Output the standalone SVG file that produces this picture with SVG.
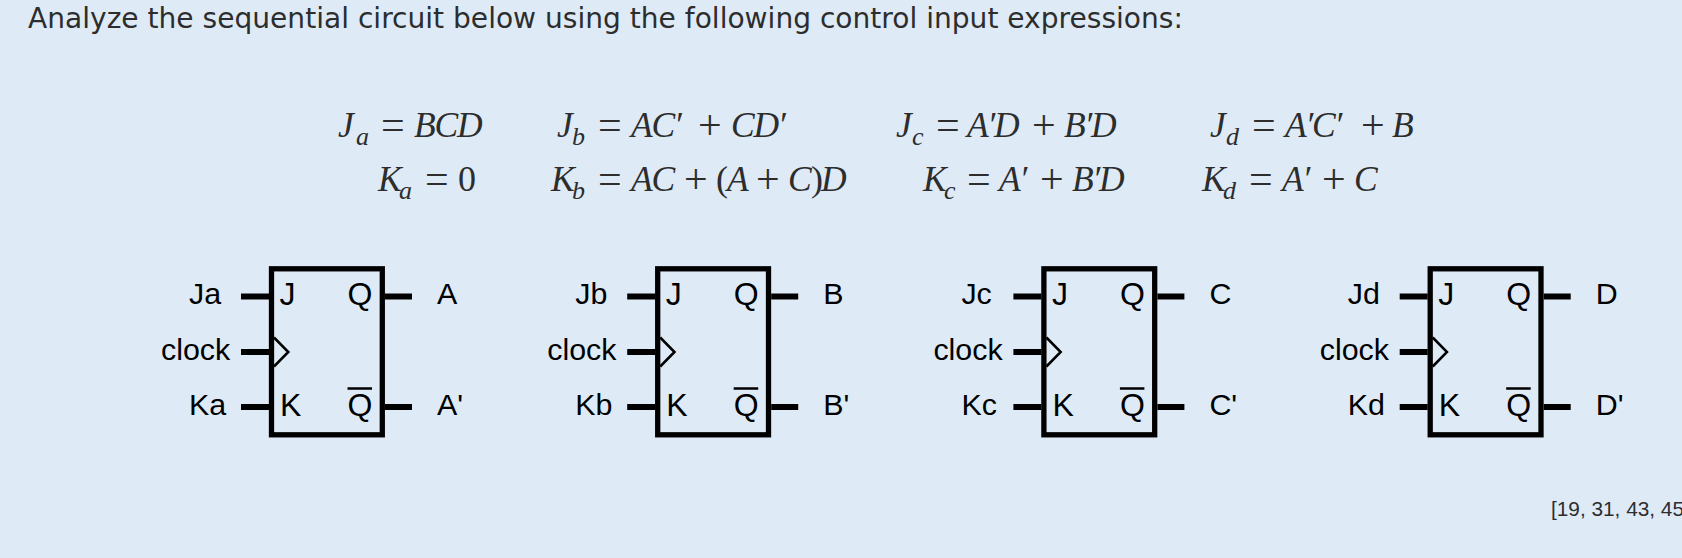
<svg xmlns="http://www.w3.org/2000/svg" width="1682" height="558" viewBox="0 0 1682 558">
<style>
.h{font-family:"DejaVu Sans",sans-serif;font-size:28.08px;fill:#2d2d2d}
.m{font-family:"Liberation Serif",serif;font-size:35.500px;fill:#2d2d2d;font-style:italic;letter-spacing:-1.200px}
.n{font-family:"Liberation Serif",serif;font-size:36px;fill:#2d2d2d}
.o{font-family:"Liberation Serif",serif;font-size:42px;fill:#2d2d2d}
.s{font-family:"Liberation Serif",serif;font-size:26px;fill:#2d2d2d;font-style:italic}
.l{font-family:"Liberation Sans",Arial,sans-serif;font-size:30.400px;fill:#000}
.b{font-family:"Liberation Sans",Arial,sans-serif;font-size:32px;fill:#000}
.w{stroke:#000;stroke-width:5.300;fill:none}
.t{stroke:#000;stroke-width:6;fill:none}
.c{stroke:#000;stroke-width:2.500;fill:none}
.f{font-family:"Liberation Sans",Arial,sans-serif;font-size:20.800px;fill:#2d2d2d}
</style>
<rect width="1682" height="558" fill="#deebf7"/>
<text class="h" x="28" y="28">Analyze the sequential circuit below using the following control input expressions:</text>
<g id="equations">
<text class="m" x="338" y="137">J</text><text class="s" x="356" y="145">a</text><text class="o" x="381" y="139">=</text><text class="m" x="414" y="137">BCD</text>
<text class="m" x="378" y="191">K</text><text class="s" x="399" y="199">a</text><text class="o" x="425" y="193">=</text><text class="n" x="458" y="191">0</text>
<text class="m" x="557" y="137">J</text><text class="s" x="572" y="145">b</text><text class="o" x="598" y="139">=</text><text class="m" x="631" y="137">AC′</text><text class="o" x="698" y="139">+</text><text class="m" x="731" y="137">CD′</text>
<text class="m" x="551" y="191">K</text><text class="s" x="572" y="199">b</text><text class="o" x="598" y="193">=</text><text class="m" x="631" y="191">AC</text><text class="o" x="684" y="193">+</text><text class="n" x="716" y="191">(</text><text class="m" x="727" y="191">A</text><text class="o" x="756" y="193">+</text><text class="m" x="788" y="191">C</text><text class="n" x="811" y="191">)</text><text class="m" x="821" y="191">D</text>
<text class="m" x="896" y="137">J</text><text class="s" x="912" y="145">c</text><text class="o" x="936" y="139">=</text><text class="m" x="967" y="137">A′D</text><text class="o" x="1032" y="139">+</text><text class="m" x="1064" y="137">B′D</text>
<text class="m" x="923" y="191">K</text><text class="s" x="944" y="199">c</text><text class="o" x="967" y="193">=</text><text class="m" x="999" y="191">A′</text><text class="o" x="1040" y="193">+</text><text class="m" x="1072" y="191">B′D</text>
<text class="m" x="1210" y="137">J</text><text class="s" x="1226" y="145">d</text><text class="o" x="1252" y="139">=</text><text class="m" x="1285" y="137">A′C′</text><text class="o" x="1361" y="139">+</text><text class="m" x="1392" y="137">B</text>
<text class="m" x="1202" y="191">K</text><text class="s" x="1223" y="199">d</text><text class="o" x="1249" y="193">=</text><text class="m" x="1282" y="191">A′</text><text class="o" x="1322" y="193">+</text><text class="m" x="1354" y="191">C</text>
</g>
<defs>
<g id="ff">
<rect class="w" x="271.500" y="268.800" width="110.800" height="166"/>
<path class="c" d="M274 337.500L288.300 352L274 366.500"/>
<text class="b" x="279.500" y="304.500">J</text>
<text class="b" x="347.500" y="304.500">Q</text>
<text class="b" x="280" y="415.500">K</text>
<text class="b" x="347.500" y="415.500">Q</text>
<path d="M347.500 388.500H372" stroke="#000" stroke-width="2.500"/>
</g>
<g id="leads">
<path class="t" d="M241 296.500H269M241 352H269M241 407H269M385 296.500H412M385 407H412"/>
</g>
</defs>
<g id="connectors">
<use href="#leads"/>
<use href="#leads" x="386.200"/>
<use href="#leads" x="772.400"/>
<use href="#leads" x="1158.700"/>
</g>
<g id="ff-a"><use href="#ff"/>
<text class="l" x="189" y="304">Ja</text><text class="l" x="161" y="360">clock</text><text class="l" x="189" y="415">Ka</text><text class="l" x="437" y="304">A</text><text class="l" x="437" y="415">A'</text></g>
<g id="ff-b" transform="translate(386.200)"><use href="#ff"/>
<text class="l" x="189" y="304">Jb</text><text class="l" x="161" y="360">clock</text><text class="l" x="189" y="415">Kb</text><text class="l" x="437" y="304">B</text><text class="l" x="437" y="415">B'</text></g>
<g id="ff-c" transform="translate(772.400)"><use href="#ff"/>
<text class="l" x="189" y="304">Jc</text><text class="l" x="161" y="360">clock</text><text class="l" x="189" y="415">Kc</text><text class="l" x="437" y="304">C</text><text class="l" x="437" y="415">C'</text></g>
<g id="ff-d" transform="translate(1158.700)"><use href="#ff"/>
<text class="l" x="189" y="304">Jd</text><text class="l" x="161" y="360">clock</text><text class="l" x="189" y="415">Kd</text><text class="l" x="437" y="304">D</text><text class="l" x="437" y="415">D'</text></g>
<text class="f" x="1551" y="516">[19, 31, 43, 45</text>
</svg>
